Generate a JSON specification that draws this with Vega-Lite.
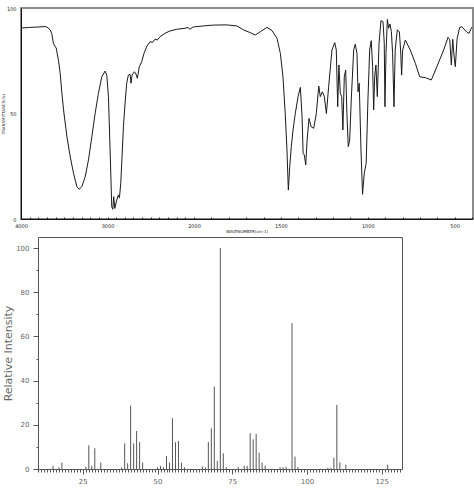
{
  "$schema": "https://vega.github.io/schema/vega-lite/v6.json",
  "background": "white",
  "padding": {"left": 0, "top": 5, "right": 0, "bottom": 0},
  "spacing": 3,
  "config": {
    "axis": {"grid": false, "labelFont": "DejaVu Sans", "titleFont": "DejaVu Sans", "titleFontWeight": "normal"}
  },
  "vconcat": [
    {
      "width": 452,
      "height": 211,
      "view": {"stroke": "#8a8a8a", "strokeWidth": 2},
      "data": {"values": [
        {"wn": 4000, "t": 90.5}, {"wn": 3900, "t": 90.8}, {"wn": 3800, "t": 91}, {"wn": 3720, "t": 91.2}, {"wn": 3700, "t": 91},
        {"wn": 3662, "t": 89.6}, {"wn": 3645, "t": 88}, {"wn": 3624, "t": 83}, {"wn": 3593, "t": 81}, {"wn": 3566, "t": 75},
        {"wn": 3547, "t": 69}, {"wn": 3527, "t": 59.6}, {"wn": 3508, "t": 51.7}, {"wn": 3469, "t": 39}, {"wn": 3431, "t": 29.5},
        {"wn": 3393, "t": 21.7}, {"wn": 3354, "t": 15.3}, {"wn": 3328, "t": 14.1}, {"wn": 3297, "t": 15.3}, {"wn": 3258, "t": 20},
        {"wn": 3220, "t": 28}, {"wn": 3181, "t": 39}, {"wn": 3143, "t": 50}, {"wn": 3105, "t": 59.6}, {"wn": 3066, "t": 67.4},
        {"wn": 3028, "t": 70.1}, {"wn": 3008, "t": 68.2}, {"wn": 2989, "t": 58}, {"wn": 2970, "t": 32.7}, {"wn": 2951, "t": 5.8},
        {"wn": 2939, "t": 4.6}, {"wn": 2928, "t": 10.6}, {"wn": 2916, "t": 5}, {"wn": 2893, "t": 9}, {"wn": 2874, "t": 11.4},
        {"wn": 2862, "t": 10}, {"wn": 2847, "t": 16.9}, {"wn": 2832, "t": 29.5}, {"wn": 2816, "t": 43.7}, {"wn": 2797, "t": 54.8},
        {"wn": 2778, "t": 64.3}, {"wn": 2759, "t": 68.2}, {"wn": 2739, "t": 68.6}, {"wn": 2728, "t": 64.3}, {"wn": 2716, "t": 68.2},
        {"wn": 2689, "t": 69.8}, {"wn": 2670, "t": 68.6}, {"wn": 2655, "t": 66.7}, {"wn": 2632, "t": 72.2}, {"wn": 2604, "t": 74.6},
        {"wn": 2578, "t": 78.5}, {"wn": 2547, "t": 81.7}, {"wn": 2509, "t": 84}, {"wn": 2478, "t": 83.7}, {"wn": 2451, "t": 85.2},
        {"wn": 2424, "t": 84.8}, {"wn": 2393, "t": 86.4}, {"wn": 2336, "t": 88}, {"wn": 2278, "t": 89.1}, {"wn": 2201, "t": 89.9},
        {"wn": 2105, "t": 90.4}, {"wn": 2067, "t": 90.8}, {"wn": 2050, "t": 89.9}, {"wn": 2010, "t": 91}, {"wn": 1946, "t": 91.5},
        {"wn": 1889, "t": 91.9}, {"wn": 1812, "t": 92}, {"wn": 1753, "t": 91.5}, {"wn": 1714, "t": 89.6}, {"wn": 1676, "t": 88.3},
        {"wn": 1647, "t": 87.2}, {"wn": 1618, "t": 88.8}, {"wn": 1580, "t": 90.8}, {"wn": 1551, "t": 89.3}, {"wn": 1522, "t": 85.6},
        {"wn": 1503, "t": 78.5}, {"wn": 1488, "t": 67.4}, {"wn": 1475, "t": 50}, {"wn": 1465, "t": 32.7}, {"wn": 1457, "t": 13.7},
        {"wn": 1449, "t": 24.8}, {"wn": 1440, "t": 34.3}, {"wn": 1430, "t": 42.2}, {"wn": 1417, "t": 50}, {"wn": 1401, "t": 58},
        {"wn": 1388, "t": 62.4}, {"wn": 1378, "t": 48.5}, {"wn": 1372, "t": 31.1}, {"wn": 1365, "t": 30.3}, {"wn": 1357, "t": 25.6},
        {"wn": 1349, "t": 37.4}, {"wn": 1338, "t": 47.7}, {"wn": 1326, "t": 43.7}, {"wn": 1311, "t": 43}, {"wn": 1296, "t": 50},
        {"wn": 1282, "t": 63}, {"wn": 1273, "t": 58}, {"wn": 1261, "t": 60.3}, {"wn": 1250, "t": 58}, {"wn": 1238, "t": 50},
        {"wn": 1225, "t": 62.7}, {"wn": 1206, "t": 80.1}, {"wn": 1190, "t": 83.6}, {"wn": 1181, "t": 80.1}, {"wn": 1173, "t": 53.2},
        {"wn": 1166, "t": 73}, {"wn": 1158, "t": 59.6}, {"wn": 1150, "t": 58}, {"wn": 1143, "t": 42.2}, {"wn": 1135, "t": 67.4},
        {"wn": 1127, "t": 70.6}, {"wn": 1120, "t": 50}, {"wn": 1112, "t": 34.3}, {"wn": 1104, "t": 37.4}, {"wn": 1095, "t": 56.4},
        {"wn": 1081, "t": 80.1}, {"wn": 1072, "t": 82.8}, {"wn": 1062, "t": 78.5}, {"wn": 1056, "t": 60.3}, {"wn": 1049, "t": 64.3},
        {"wn": 1039, "t": 32.7}, {"wn": 1030, "t": 11.7}, {"wn": 1020, "t": 21.7}, {"wn": 1009, "t": 26.4}, {"wn": 999, "t": 56.4},
        {"wn": 989, "t": 80.1}, {"wn": 980, "t": 84.5}, {"wn": 972, "t": 72.2}, {"wn": 966, "t": 51.7}, {"wn": 960, "t": 67.4},
        {"wn": 953, "t": 73}, {"wn": 945, "t": 58}, {"wn": 935, "t": 83.3}, {"wn": 924, "t": 94}, {"wn": 912, "t": 93.5},
        {"wn": 905, "t": 83.3}, {"wn": 901, "t": 53.2}, {"wn": 895, "t": 78.5}, {"wn": 887, "t": 94.6}, {"wn": 880, "t": 90.4},
        {"wn": 872, "t": 92.4}, {"wn": 864, "t": 88.8}, {"wn": 857, "t": 78.5}, {"wn": 849, "t": 53.2}, {"wn": 842, "t": 80.1},
        {"wn": 830, "t": 89.6}, {"wn": 818, "t": 88.8}, {"wn": 811, "t": 80.1}, {"wn": 805, "t": 68.2}, {"wn": 799, "t": 80.1},
        {"wn": 784, "t": 84.8}, {"wn": 755, "t": 80.1}, {"wn": 726, "t": 73.8}, {"wn": 701, "t": 67.4}, {"wn": 669, "t": 67},
        {"wn": 634, "t": 65.9}, {"wn": 602, "t": 72.2}, {"wn": 563, "t": 80.1}, {"wn": 538, "t": 86.1}, {"wn": 528, "t": 85},
        {"wn": 519, "t": 73}, {"wn": 511, "t": 85.2}, {"wn": 502, "t": 76.2}, {"wn": 496, "t": 72.2}, {"wn": 486, "t": 85.2},
        {"wn": 471, "t": 90.8}, {"wn": 458, "t": 91.1}, {"wn": 433, "t": 88.8}, {"wn": 417, "t": 88}, {"wn": 404, "t": 90.4},
        {"wn": 400, "t": 91}
      ]},
      "mark": {"type": "line", "color": "#1a1a1a", "strokeWidth": 1},
      "encoding": {
        "x": {
          "field": "wn", "type": "quantitative",
          "scale": {"domain": [4000, 2000, 400], "range": [0, 173, 451], "nice": false, "zero": false},
          "axis": {
            "title": "WAVENUMBER(cm-1)", "titleFontSize": 4, "titleColor": "#222", "titlePadding": 1,
            "values": [4000, 3900, 3800, 3700, 3600, 3500, 3400, 3300, 3200, 3100, 3000, 2900, 2800, 2700, 2600, 2500, 2400, 2300, 2200, 2100, 2000, 1900, 1800, 1700, 1600, 1500, 1400, 1300, 1200, 1100, 1000, 900, 800, 700, 600, 500, 400],
            "labelExpr": "indexof([4000, 3000, 2000, 1500, 1000, 500], datum.value) >= 0 ? format(datum.value, 'd') : ''",
            "labelFontSize": 5, "labelColor": "#222", "labelOverlap": false, "labelFlush": false,
            "tickSize": -2, "tickColor": "#222", "labelPadding": 6,
            "domainColor": "#111", "domainWidth": 1
          }
        },
        "y": {
          "field": "t", "type": "quantitative",
          "scale": {"domain": [0, 100], "nice": false},
          "axis": {
            "title": "TRANSMITTANCE(%)", "titleFontSize": 4, "titleColor": "#222", "titlePadding": 1,
            "values": [0, 50, 100], "ticks": false, "labelPadding": 5,
            "labelFontSize": 5, "labelColor": "#222", "labelFlush": false,
            "domainColor": "#111", "domainWidth": 1
          }
        }
      }
    },
    {
      "width": 381,
      "height": 232,
      "view": {"stroke": null},
      "data": {"values": [
        {"mz": 15, "intensity": 1.4}, {"mz": 17, "intensity": 0.8}, {"mz": 18, "intensity": 2.9}, {"mz": 26, "intensity": 1},
        {"mz": 27, "intensity": 10.7}, {"mz": 28, "intensity": 1.4}, {"mz": 29, "intensity": 9.4}, {"mz": 31, "intensity": 2.9},
        {"mz": 38, "intensity": 0.8}, {"mz": 39, "intensity": 11.6}, {"mz": 40, "intensity": 2.6}, {"mz": 41, "intensity": 28.7},
        {"mz": 42, "intensity": 11.6}, {"mz": 43, "intensity": 17.2}, {"mz": 44, "intensity": 12.2}, {"mz": 45, "intensity": 2.9},
        {"mz": 50, "intensity": 0.8}, {"mz": 51, "intensity": 1.4}, {"mz": 52, "intensity": 0.8}, {"mz": 53, "intensity": 5.9},
        {"mz": 54, "intensity": 2.9}, {"mz": 55, "intensity": 23}, {"mz": 56, "intensity": 12.1}, {"mz": 57, "intensity": 12.7},
        {"mz": 58, "intensity": 2.9}, {"mz": 59, "intensity": 0.8}, {"mz": 65, "intensity": 1.2}, {"mz": 66, "intensity": 0.8},
        {"mz": 67, "intensity": 12.2}, {"mz": 68, "intensity": 18.4}, {"mz": 69, "intensity": 37.3}, {"mz": 70, "intensity": 3.6},
        {"mz": 71, "intensity": 100}, {"mz": 72, "intensity": 7.1}, {"mz": 73, "intensity": 0.8}, {"mz": 77, "intensity": 1},
        {"mz": 79, "intensity": 1.5}, {"mz": 80, "intensity": 1.4}, {"mz": 81, "intensity": 16.2}, {"mz": 82, "intensity": 13.4},
        {"mz": 83, "intensity": 15.9}, {"mz": 84, "intensity": 7.4}, {"mz": 85, "intensity": 2.9}, {"mz": 86, "intensity": 1.5},
        {"mz": 91, "intensity": 0.8}, {"mz": 92, "intensity": 0.8}, {"mz": 93, "intensity": 1}, {"mz": 95, "intensity": 66},
        {"mz": 96, "intensity": 5.6}, {"mz": 97, "intensity": 0.8}, {"mz": 107, "intensity": 0.6}, {"mz": 108, "intensity": 0.6},
        {"mz": 109, "intensity": 5.1}, {"mz": 110, "intensity": 29}, {"mz": 111, "intensity": 3}, {"mz": 113, "intensity": 2},
        {"mz": 127, "intensity": 2}
      ]},
      "layer": [
        {
          "mark": {"type": "rule", "color": "#555", "strokeWidth": 1},
          "encoding": {
            "x": {
              "field": "mz", "type": "quantitative",
              "scale": {"domain": [10, 131.8], "range": [17, 381], "nice": false, "zero": false},
              "axis": {
                "title": null,
                "values": [10, 11, 12, 13, 14, 15, 16, 17, 18, 19, 20, 21, 22, 23, 24, 25, 26, 27, 28, 29, 30, 31, 32, 33, 34, 35, 36, 37, 38, 39, 40, 41, 42, 43, 44, 45, 46, 47, 48, 49, 50, 51, 52, 53, 54, 55, 56, 57, 58, 59, 60, 61, 62, 63, 64, 65, 66, 67, 68, 69, 70, 71, 72, 73, 74, 75, 76, 77, 78, 79, 80, 81, 82, 83, 84, 85, 86, 87, 88, 89, 90, 91, 92, 93, 94, 95, 96, 97, 98, 99, 100, 101, 102, 103, 104, 105, 106, 107, 108, 109, 110, 111, 112, 113, 114, 115, 116, 117, 118, 119, 120, 121, 122, 123, 124, 125, 126, 127, 128, 129, 130, 131],
                "labelExpr": "datum.value % 25 === 0 ? datum.label : ''",
                "labelFontSize": 7, "labelColor": "#666", "labelOverlap": false, "labelFlush": false, "labelPadding": 3,
                "tickSize": {"condition": {"test": "datum.value % 25 === 0", "value": 5}, "value": 3},
                "tickColor": "#555", "domainColor": "#555"
              }
            },
            "y": {
              "field": "intensity", "type": "quantitative",
              "scale": {"domain": [0, 105], "nice": false},
              "axis": {
                "title": "Relative Intensity", "titleFontSize": 11, "titleColor": "#666", "titlePadding": 2,
                "offset": -17,
                "values": [0, 10, 20, 30, 40, 50, 60, 70, 80, 90, 100],
                "labelExpr": "datum.value % 20 === 0 ? datum.label : ''",
                "labelFontSize": 7, "labelColor": "#666", "labelOverlap": false, "labelFlush": false, "labelPadding": 4,
                "tickSize": {"condition": {"test": "datum.value % 20 === 0", "value": 5}, "value": 2},
                "tickColor": "#555", "domainColor": "#555"
              }
            },
            "y2": {"datum": 0}
          }
        },
        {
          "mark": {"type": "rule", "opacity": 0},
          "encoding": {
            "x": {
              "field": "mz", "type": "quantitative",
              "scale": {"domain": [10, 131.8], "range": [17, 381], "nice": false, "zero": false},
              "axis": {"orient": "top", "title": null, "labels": false, "ticks": false, "domainColor": "#555"}
            },
            "y": {
              "field": "intensity", "type": "quantitative",
              "scale": {"domain": [0, 105], "nice": false},
              "axis": {"orient": "right", "title": null, "labels": false, "ticks": false, "domainColor": "#555"}
            },
            "y2": {"datum": 0}
          }
        }
      ],
      "resolve": {"axis": {"x": "independent", "y": "independent"}}
    }
  ]
}
